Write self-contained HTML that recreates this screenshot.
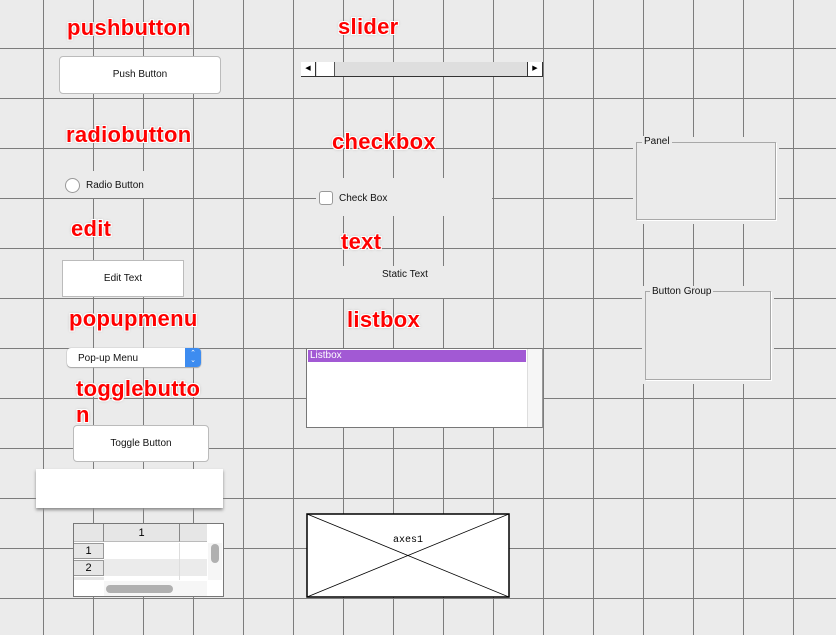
<!DOCTYPE html>
<html><head><meta charset="utf-8"><style>
*{margin:0;padding:0;box-sizing:border-box}
body{width:836px;height:635px;position:relative;overflow:hidden;background:#ebebeb;font-family:"Liberation Sans",Arial,sans-serif}
.g{position:absolute;background:#7c7c7c}
.a{position:absolute}
.lbl{position:absolute;color:#f00;font-weight:bold;font-size:22px;line-height:22px;letter-spacing:0.3px;
text-shadow:-1px -1px 0 #fff,1px -1px 0 #fff,-1px 1px 0 #fff,1px 1px 0 #fff,0 0 3px #999}
.t{font-size:10px;color:#111;white-space:nowrap}
</style></head><body>
<div id="grid"></div>
<script>
var h='';
for(var x=43;x<836;x+=50)h+='<div class="g" style="left:'+x+'px;top:0;width:1px;height:635px"></div>';
for(var y=48;y<635;y+=50)h+='<div class="g" style="left:0;top:'+y+'px;width:836px;height:1px"></div>';
document.getElementById('grid').innerHTML=h;
</script>

<div class="lbl" style="left:67px;top:17px">pushbutton</div>
<div class="a" style="left:59px;top:56px;width:162px;height:38px;background:#fff;border:1px solid #bbb;border-radius:4px;"><div class="t" style="text-align:center;line-height:36px">Push Button</div></div>

<div class="lbl" style="left:66px;top:124px">radiobutton</div>
<div class="a" style="left:62px;top:171px;width:94px;height:27px;background:#ebebeb"></div>
<div class="a" style="left:65px;top:178px;width:15px;height:15px;border-radius:50%;background:#fff;border:1px solid #999"></div>
<div class="a t" style="left:86px;top:180px">Radio Button</div>

<div class="lbl" style="left:71px;top:218px">edit</div>
<div class="a" style="left:62px;top:260px;width:122px;height:37px;background:#fff;border:1px solid #bbb"><div class="t" style="text-align:center;line-height:35px">Edit Text</div></div>

<div class="lbl" style="left:69px;top:308px">popupmenu</div>
<div class="a" style="left:67px;top:348px;width:134px;height:19px;background:#fff;border-radius:4px;box-shadow:0 0 1px #888,0 1px 1px #aaa"></div>
<div class="a t" style="left:78px;top:353px">Pop-up Menu</div>
<div class="a" style="left:185px;top:348px;width:16px;height:19px;background:#3d8cf0;border-radius:0 4px 4px 0;color:#fff;font-size:7px;line-height:7px;text-align:center;padding-top:2px">⌃<br>⌄</div>

<div class="lbl" style="left:76px;top:378px">togglebutto</div>
<div class="lbl" style="left:76px;top:404px">n</div>
<div class="a" style="left:73px;top:425px;width:136px;height:37px;background:#fff;border:1px solid #bbb;border-radius:4px"><div class="t" style="text-align:center;line-height:35px">Toggle Button</div></div>

<div class="a" style="left:36px;top:469px;width:187px;height:39px;background:#fff;box-shadow:0 2px 3px #888"></div>

<div class="a" style="left:73px;top:523px;width:151px;height:74px;background:#fff;border:1px solid #777"></div>
<div class="a" style="left:74px;top:524px;width:30px;height:18px;background:#e6e6e6;border-right:1px solid #888;border-bottom:1px solid #bbb"></div>
<div class="a" style="left:104px;top:524px;width:76px;height:18px;background:#e6e6e6;border-right:1px solid #888;border-bottom:1px solid #bbb;font-size:11px;text-align:center;line-height:18px">1</div>
<div class="a" style="left:180px;top:524px;width:27px;height:18px;background:#e6e6e6;border-bottom:1px solid #bbb"></div>
<div class="a" style="left:74px;top:543px;width:30px;height:16px;background:#e6e6e6;border:1px solid #999;border-left:none;font-size:11px;text-align:center;line-height:15px">1</div>
<div class="a" style="left:74px;top:560px;width:30px;height:16px;background:#e6e6e6;border:1px solid #999;border-left:none;font-size:11px;text-align:center;line-height:15px">2</div>
<div class="a" style="left:74px;top:577px;width:30px;height:3px;background:#e6e6e6"></div>
<div class="a" style="left:104px;top:559px;width:103px;height:17px;background:#ebebeb"></div>
<div class="a" style="left:179px;top:543px;width:1px;height:37px;background:#ddd"></div>
<div class="a" style="left:104px;top:581px;width:103px;height:15px;background:#f6f6f6"></div>
<div class="a" style="left:106px;top:585px;width:67px;height:8px;background:#b0b0b0;border-radius:4px"></div>
<div class="a" style="left:208px;top:543px;width:14px;height:37px;background:#f6f6f6"></div>
<div class="a" style="left:211px;top:544px;width:8px;height:19px;background:#b0b0b0;border-radius:4px"></div>

<div class="lbl" style="left:338px;top:16px">slider</div>
<div class="a" style="left:301px;top:62px;width:242px;height:15px;background:#dedede;border-bottom:1px solid #333;border-right:1px solid #333"></div>
<div class="a" style="left:301px;top:62px;width:15px;height:14px;background:#fff;border-right:1px solid #333;font-size:7px;text-align:center;line-height:14px">◀</div>
<div class="a" style="left:317px;top:62px;width:18px;height:14px;background:#fff;border-right:1px solid #555"></div>
<div class="a" style="left:527px;top:62px;width:15px;height:14px;background:#fff;border-left:1px solid #333;font-size:7px;text-align:center;line-height:14px">▶</div>

<div class="lbl" style="left:332px;top:131px">checkbox</div>
<div class="a" style="left:316px;top:178px;width:176px;height:38px;background:#ebebeb"></div>
<div class="a" style="left:319px;top:191px;width:14px;height:14px;background:#fff;border:1px solid #999;border-radius:3px"></div>
<div class="a t" style="left:339px;top:193px">Check Box</div>

<div class="lbl" style="left:341px;top:231px">text</div>
<div class="a" style="left:316px;top:266px;width:174px;height:32px;background:#ebebeb"></div>
<div class="a t" style="left:382px;top:269px">Static Text</div>

<div class="lbl" style="left:347px;top:309px">listbox</div>
<div class="a" style="left:306px;top:348px;width:237px;height:80px;background:#fff;border:1px solid #777;border-right-color:#999"></div>
<div class="a" style="left:527px;top:349px;width:15px;height:78px;background:#f6f6f6;border-left:1px solid #ddd"></div>
<div class="a" style="left:308px;top:350px;width:218px;height:12px;background:#a259d4;color:#fff;font-size:10px;line-height:12px;padding-left:2px">Listbox</div>

<svg class="a" style="left:306px;top:513px" width="205" height="86">
<rect x="1" y="1" width="202" height="83" fill="#fff" stroke="#000" stroke-width="1.5"/>
<line x1="1" y1="1" x2="203" y2="84" stroke="#000" stroke-width="0.8"/>
<line x1="1" y1="84" x2="203" y2="1" stroke="#000" stroke-width="0.8"/>
<text x="102" y="29" font-family="Liberation Mono,monospace" font-size="10" text-anchor="middle">axes1</text>
</svg>

<div class="a" style="left:633px;top:137px;width:146px;height:87px;background:#ebebeb"></div>
<div class="a" style="left:636px;top:142px;width:140px;height:78px;border:1px solid #a8a8a8;box-shadow:1px 1px 0 #fff"></div>
<div class="a t" style="left:642px;top:136px;background:#ebebeb;padding:0 2px">Panel</div>

<div class="a" style="left:642px;top:286px;width:132px;height:98px;background:#ebebeb"></div>
<div class="a" style="left:645px;top:291px;width:126px;height:89px;border:1px solid #a8a8a8;box-shadow:1px 1px 0 #fff"></div>
<div class="a t" style="left:650px;top:286px;background:#ebebeb;padding:0 2px">Button Group</div>
</body></html>
